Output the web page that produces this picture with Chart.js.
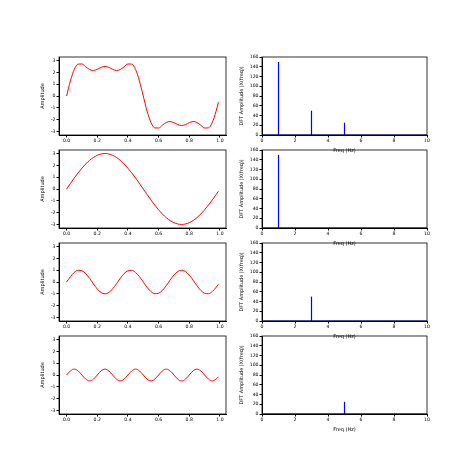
<!DOCTYPE html>
<html>
<head>
<script src="https://cdn.jsdelivr.net/npm/chart.js@4"></script>
<style>
body { margin: 0; background: #fff; }
#fig { position: relative; width: 474px; height: 474px; }
canvas { position: absolute; }
</style>
</head>
<body>
<div id="fig"></div>
<script>
const t = [0,0.025,0.05,0.075,0.1,0.125,0.15,0.175,0.2,0.225,0.25,0.275,0.3,0.325,0.35,0.375,0.4,0.425,0.45,0.475,
  0.5,0.525,0.55,0.575,0.6,0.625,0.65,0.675,0.7,0.725,0.75,0.775,0.8,0.825,0.85,0.875,0.9,0.925,0.95,0.975,0.99];

const sigSum = [0,1.28,2.24,2.70,2.71,2.47,2.24,2.16,2.26,2.42,2.50,2.42,2.26,2.16,2.24,2.47,2.71,2.70,2.24,1.28,
  0,-1.28,-2.24,-2.70,-2.71,-2.47,-2.24,-2.16,-2.26,-2.42,-2.50,-2.42,-2.26,-2.16,-2.24,-2.47,-2.71,-2.70,-2.24,-1.28,-0.53];
const sig1 = [0,0.47,0.93,1.36,1.76,2.12,2.43,2.67,2.85,2.96,3,2.96,2.85,2.67,2.43,2.12,1.76,1.36,0.93,0.47,
  0,-0.47,-0.93,-1.36,-1.76,-2.12,-2.43,-2.67,-2.85,-2.96,-3,-2.96,-2.85,-2.67,-2.43,-2.12,-1.76,-1.36,-0.93,-0.47,-0.19];
const sig3 = [0,0.45,0.81,0.99,0.95,0.71,0.31,-0.16,-0.59,-0.89,-1,-0.89,-0.59,-0.16,0.31,0.71,0.95,0.99,0.81,0.45,
  0,-0.45,-0.81,-0.99,-0.95,-0.71,-0.31,0.16,0.59,0.89,1,0.89,0.59,0.16,-0.31,-0.71,-0.95,-0.99,-0.81,-0.45,-0.19];
const sig5 = [0,0.35,0.5,0.35,0,-0.35,-0.5,-0.35,0,0.35,0.5,0.35,0,-0.35,-0.5,-0.35,0,0.35,0.5,0.35,
  0,-0.35,-0.5,-0.35,0,0.35,0.5,0.35,0,-0.35,-0.5,-0.35,0,0.35,0.5,0.35,0,-0.35,-0.5,-0.35,-0.15];

const stemFreq = [1, 3, 5];
const ampSum = [150, 50, 25];
const amp1 = [150, 0, 0];
const amp3 = [0, 50, 0];
const amp5 = [0, 0, 25];

const timeTicks = [0, 0.2, 0.4, 0.6, 0.8, 1.0];
const ampTicks = [-3, -2, -1, 0, 1, 2, 3];
const freqTicks = [0, 2, 4, 6, 8, 10];
const dftTicks = [0, 20, 40, 60, 80, 100, 120, 140, 160];

const rows = [
  { sig: sigSum, amp: ampSum, top: 57 },
  { sig: sig1, amp: amp1, top: 150 },
  { sig: sig3, amp: amp3, top: 243 },
  { sig: sig5, amp: amp5, top: 336 }
];
const plotH = 78;
const FONT = { family: 'DejaVu Sans', size: 4.6 };
const TFONT = { family: 'DejaVu Sans', size: 5 };

const frame = {
  id: 'frame',
  afterDraw(c) {
    const a = c.chartArea, ctx = c.ctx;
    ctx.save();
    ctx.strokeStyle = '#000';
    ctx.lineWidth = 0.8;
    ctx.strokeRect(a.left, a.top, a.right - a.left, a.bottom - a.top);
    ctx.restore();
  }
};

function axis(min, max, ticks, title, fitSize, isX) {
  return {
    type: 'linear', min, max,
    afterBuildTicks: s => { s.ticks = ticks.map(v => ({ value: v })); },
    afterFit: s => { if (isX) s.height = fitSize; else s.width = fitSize; },
    grid: { drawOnChartArea: false, drawTicks: true, tickLength: 2.5, color: '#000' },
    border: { color: '#000' },
    ticks: { font: FONT, color: '#000', padding: 1, maxRotation: 0, autoSkip: false,
      callback: v => isX && max < 2 ? v.toFixed(1) : String(v) },
    title: { display: !!title, text: title, font: TFONT, color: '#000', padding: 1 }
  };
}

function makeCanvas(left, top, w, h) {
  const c = document.createElement('canvas');
  c.style.left = left + 'px';
  c.style.top = top + 'px';
  c.width = w;
  c.height = h;
  document.getElementById('fig').appendChild(c);
  return c;
}

const common = {
  responsive: false, animation: false,
  layout: { padding: { top: 4, right: 4, left: 0, bottom: 0 } },
  plugins: { legend: { display: false }, tooltip: { enabled: false } },
  elements: { point: { radius: 0 } }
};

rows.forEach(r => {
  // time signal
  const c1 = makeCanvas(59 - 20, r.top - 4, 167 + 24, plotH + 18);
  new Chart(c1, {
    type: 'line',
    data: { datasets: [{
      data: t.map((x, i) => ({ x, y: r.sig[i] })),
      borderColor: '#ff0000', borderWidth: 1, cubicInterpolationMode: 'monotone'
    }] },
    options: { ...common,
      scales: {
        x: axis(-0.0495, 1.0395, timeTicks, '', 14, true),
        y: axis(-3.3, 3.3, ampTicks, 'Amplitude', 20, false)
      } },
    plugins: [frame]
  });

  // DFT stems
  const c2 = makeCanvas(262 - 24, r.top - 4, 165 + 28, plotH + 24);
  const stems = [];
  stemFreq.forEach((f, i) => {
    stems.push({ x: f, y: 0 }, { x: f, y: r.amp[i] }, { x: f, y: null });
  });
  new Chart(c2, {
    type: 'line',
    data: { datasets: [
      { data: stems, borderColor: '#0000ff', borderWidth: 1.2, spanGaps: false },
      { data: [{ x: 0, y: 0 }, { x: 10, y: 0 }], borderColor: '#0000ff', borderWidth: 1.2 }
    ] },
    options: { ...common,
      scales: {
        x: axis(0, 10, freqTicks, 'Freq (Hz)', 20, true),
        y: axis(0, 160, dftTicks, 'DFT Amplitude |X(freq)|', 24, false)
      } },
    plugins: [frame]
  });
});
</script>
</body>
</html>
